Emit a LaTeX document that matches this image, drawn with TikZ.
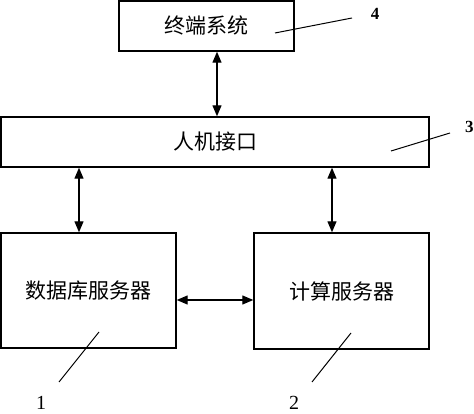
\documentclass[tikz,border=0pt]{standalone}
\usepackage{fontspec}
\setmainfont{Liberation Serif}
\newfontfamily\cjk{Noto Sans CJK SC}
\usetikzlibrary{arrows.meta, positioning}

\begin{document}
\begin{tikzpicture}[
    x=1pt, y=1pt,
    block/.style={rectangle, draw, line width=1.4pt, font=\cjk\fontsize{21}{25}\selectfont, inner sep=0pt},
    arrow/.style={{Triangle[length=11pt,width=9pt]}-{Triangle[length=11pt,width=9pt]}, line width=1.2pt},
    leader/.style={line width=1pt},
    num/.style={font=\fontsize{20}{22}\selectfont, inner sep=0pt}
]
\useasboundingbox (0,0) rectangle (474,414);
\clip (0,0) rectangle (474,414);

\node[block, minimum width=175pt, minimum height=50pt] (term) at (206.5,388) {终端系统};
\node[block, minimum width=428pt, minimum height=50pt] (iface) at (215,272) {人机接口};
\node[block, minimum width=175pt, minimum height=115pt] (db) at (88.5,123.5) {数据库服务器};
\node[block, minimum width=175pt, minimum height=116pt] (calc) at (341.5,123) {计算服务器};

\draw[arrow] ([xshift=10.5pt]term.south) -- ([xshift=10.5pt]term.south |- iface.north);
\draw[arrow] ([xshift=-9.5pt]db.north) -- ([xshift=-9.5pt]db.north |- iface.south);
\draw[arrow] ([xshift=-9.5pt]calc.north) -- ([xshift=-9.5pt]calc.north |- iface.south);
\draw[arrow] ([yshift=-9.5pt]db.east) -- ([yshift=-9.5pt]db.east -| calc.west);

% reference numbers
\node[num, font=\bfseries\fontsize{17}{20}\selectfont] (n4) at (375,400) {4};
\node[num, font=\bfseries\fontsize{17}{20}\selectfont, anchor=west] (n3) at (465,287) {3};
\node[num] (n1) at (41,11) {1};
\node[num] (n2) at (294,11) {2};

\coordinate (t4) at (275,381);
\coordinate (e4) at (352,396);
\coordinate (t3) at (391,263);
\coordinate (e3) at (450,281);
\coordinate (t1) at (99,82);
\coordinate (e1) at (59,32);
\coordinate (t2) at (351,81);
\coordinate (e2) at (312,32);
\draw[leader] (t4) -- (e4);
\draw[leader] (t3) -- (e3);
\draw[leader] (t1) -- (e1);
\draw[leader] (t2) -- (e2);
\end{tikzpicture}
\end{document}
